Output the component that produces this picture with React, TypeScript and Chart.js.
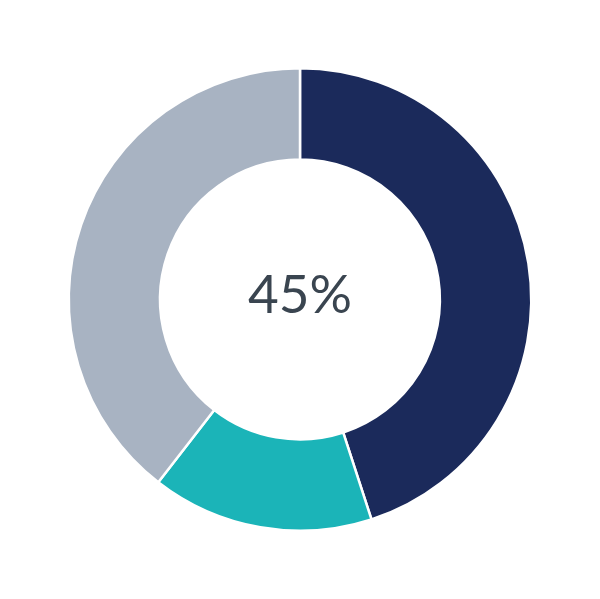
import { useEffect, useRef } from "react";
import { Chart, registerables } from "chart.js";

Chart.register(...registerables);

const labels = ["Navy", "Teal", "Grey"];
const values = [45, 15.5, 39.5];
const colors = ["#1b2a5b", "#1bb4b8", "#a8b3c2"];
const centerLabel = "45%";

const centerText = {
  id: "centerText",
  afterDraw(chart: Chart) {
    const meta = chart.getDatasetMeta(0);
    const arc: any = meta.data[0];
    if (!arc) return;
    const { ctx } = chart;
    ctx.save();
    ctx.font = "53px Lato";
    ctx.fillStyle = "#3a4550";
    ctx.textAlign = "center";
    ctx.textBaseline = "middle";
    // nudge up a touch so the digits sit visually centred
    ctx.fillText(centerLabel, arc.x, arc.y - 4);
    ctx.restore();
  },
};

export default function App() {
  const chartRef = useRef<HTMLCanvasElement>(null);

  useEffect(() => {
    if (!chartRef.current) return;
    const chart = new Chart(chartRef.current, {
      type: "doughnut",
      data: {
        labels,
        datasets: [
          {
            data: values,
            backgroundColor: colors,
            borderColor: "#ffffff",
            borderWidth: 2.5,
          },
        ],
      },
      options: {
        responsive: true,
        maintainAspectRatio: false,
        animation: false,
        cutout: "60.5%",
        layout: { padding: 67 },
        plugins: {
          legend: { display: false },
          tooltip: { enabled: false },
        },
      },
      plugins: [centerText],
    });
    return () => chart.destroy();
  }, []);

  return (
    <div style={{ position: "absolute", left: 0, top: 0, width: 600, height: 599, background: "#fff" }}>
      <canvas ref={chartRef}></canvas>
    </div>
  );
}
